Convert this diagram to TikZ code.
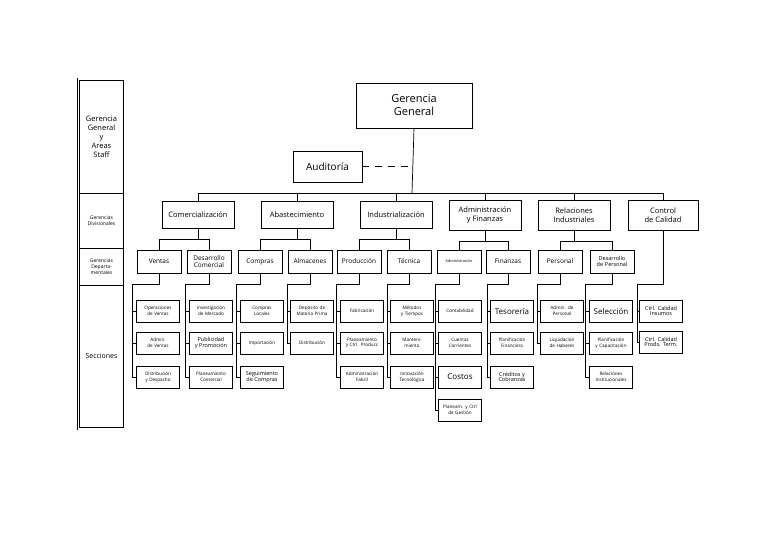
\documentclass[tikz,border=0pt]{standalone}
\usepackage{fontspec}
\setmainfont{Open Sans}
\begin{document}
\begin{tikzpicture}[x=1pt,y=-1pt,
 bx/.style={draw,line width=0.8pt,align=center,inner sep=1pt},
 lvl/.style={bx,minimum width=43pt,text width=42pt,font=\fontsize{6}{7}\selectfont},
 div/.style={bx,minimum width=72pt,minimum height=27pt,font=\fontsize{7.5}{9}\selectfont},
 dep/.style={bx,minimum width=43pt,minimum height=23pt,text width=42pt,font=\fontsize{6.5}{7.5}\selectfont},
 sec/.style={bx,minimum width=42pt,minimum height=22pt,text width=41pt,font=\fontsize{4.6}{5.6}\selectfont},
 ln/.style={line width=0.7pt}]
\useasboundingbox (0,0) rectangle (768,543);
\fill[white] (0,0) rectangle (768,543);
% left column
\draw[ln] (77,78) -- (77,430);
\node[lvl,minimum height=113pt,font=\fontsize{7.5}{9}\selectfont] (l1) at (101.5,136.5) {Gerencia\\General\\y\\Areas\\Staff};
\node[lvl,minimum height=55pt,font=\fontsize{5}{6}\selectfont] (l2) at (101.5,220.5) {Gerencias\\Divisionales};
\node[lvl,minimum height=37pt,font=\fontsize{5}{6}\selectfont] (l3) at (101.5,266.5) {Gerencias\\Departa-\\mentales};
\node[lvl,minimum height=142pt,font=\fontsize{7}{8}\selectfont] (l4) at (101.5,356) {Secciones};
% top
\node[bx,minimum width=116pt,minimum height=45pt,font=\fontsize{11}{13}\selectfont] (gg) at (414,105.5) {Gerencia\\General};
\node[bx,minimum width=69pt,minimum height=31pt,font=\fontsize{10}{12}\selectfont] (aud) at (327.5,166.5) {Auditoría};
\coordinate (bus) at (412,193);
\draw[ln] (gg.south) -- (bus);
\draw[ln,dashed,dash pattern=on 7pt off 6pt] (aud.east) -- (aud.east-|bus);
% divisions
\node[div] (com) at (198,214.5) {Comercialización};
\node[div] (aba) at (297,214.5) {Abastecimiento};
\node[div] (ind) at (396,214.5) {Industrialización};
\node[div,minimum height=30pt] (adm) at (485,215) {Administración\\y Finanzas};
\node[div,minimum height=30pt] (rel) at (574,215) {Relaciones\\Industriales};
\node[div,minimum width=70pt,minimum height=30pt] (ctl) at (663,215) {Control\\de Calidad};
\draw[ln] (com.north|-bus) -- (ctl.north|-bus);
\foreach \d in {com,aba,ind,adm,rel,ctl} \draw[ln] (\d.north|-bus) -- (\d.north);
% departments
\node[dep] (ven) at (159,261.5) {Ventas};
\node[dep] (dco) at (209,261.5) {Desarrollo\\Comercial};
\node[dep] (cmp) at (260,261.5) {Compras};
\node[dep] (alm) at (310,261.5) {Almacenes};
\node[dep] (pro) at (359,261.5) {Producción};
\node[dep] (tec) at (409,261.5) {Técnica};
\node[dep,font=\fontsize{3.8}{5}\selectfont] (adn) at (459,261.5) {Administración};
\node[dep] (fin) at (508,261.5) {Finanzas};
\node[dep] (per) at (560,261.5) {Personal};
\node[dep,font=\fontsize{5.5}{6.5}\selectfont] (dpe) at (612,261.5) {Desarrollo\\de Personal};
\foreach \p/\a/\b in {com/ven/dco,aba/cmp/alm,ind/pro/tec,adm/adn/fin,rel/per/dpe}{
 \draw[ln] (\p.south) -- ++(0,11) coordinate (\p b);
 \draw[ln] (\a.north) |- (\p b) -| (\b.north);
}
% sections
\newcommand\sct[4]{\node[sec] (#1) at (#2,#3) {#4};}
\sct{s11}{158}{311}{Operaciones\\de Ventas}
\sct{s12}{158}{343}{Admin.\\de Ventas}
\sct{s13}{158}{377}{Distribución\\y Despacho}
\sct{s21}{211}{311}{Investigación\\de Mercado}
\sct{s22}{211}{343}{\fontsize{5.5}{6.5}\selectfont Publicidad\\y Promoción}
\sct{s23}{211}{377}{Planeamiento\\Comercial}
\sct{s31}{262}{311}{Compras\\Locales}
\sct{s32}{262}{343}{Importación}
\sct{s33}{262}{377}{\fontsize{5.5}{6.5}\selectfont Seguimiento\\de Compras}
\sct{s41}{312}{311}{Depósito de\\Materia Prima}
\sct{s42}{312}{343}{Distribución}
\sct{s51}{362}{311}{Fabricación}
\sct{s52}{362}{343}{Planeamiento\\y Ctrl. Producc}
\sct{s53}{362}{377}{Administración\\Fabril}
\sct{s61}{412}{311}{Métodos\\y Tiempos}
\sct{s62}{412}{343}{Manteni-\\miento}
\sct{s63}{412}{377}{Innovación\\Tecnológica}
\sct{s71}{460}{311}{Contabilidad}
\sct{s72}{460}{343}{Cuentas\\Corrientes}
\sct{s73}{460}{377}{\fontsize{8}{9}\selectfont Costos}
\sct{s74}{460}{410}{Planeam. y Ctrl\\de Gestión}
\sct{s81}{512}{311}{\fontsize{8}{9}\selectfont Tesorería}
\sct{s82}{512}{343}{Planificación\\Financiera}
\sct{s83}{512}{377}{\fontsize{5.5}{6.5}\selectfont Créditos y\\Cobranzas}
\sct{s91}{562}{311}{Admin. de\\Personal}
\sct{s92}{562}{343}{Liquidación\\de Haberes}
\sct{sa1}{611}{311}{\fontsize{8}{9}\selectfont Selección}
\sct{sa2}{611}{343}{Planificación\\y Capacitación}
\sct{sa3}{611}{377}{Relaciones\\Institucionales}
\sct{sb1}{661}{311}{\fontsize{5.5}{6.5}\selectfont Ctrl. Calidad\\Insumos}
\sct{sb2}{661}{342}{\fontsize{5.5}{6.5}\selectfont Ctrl. Calidad\\Prods. Term.}
\foreach \d/\sx/\list in {ven/132/{s11,s12,s13},dco/185/{s21,s22,s23},cmp/236/{s31,s32,s33},alm/287/{s41,s42},pro/336/{s51,s52,s53},tec/387/{s61,s62,s63},adn/435/{s71,s72,s73,s74},fin/487/{s81,s82,s83},per/537/{s91,s92},dpe/585/{sa1,sa2,sa3},ctl/637/{sb1,sb2}}{
 \coordinate (sp\d) at (\sx,284);
 \draw[ln] (\d.south) |- (sp\d);
 \foreach \s in \list \draw[ln] (sp\d) |- (\s.west);
}
\end{tikzpicture}
\end{document}
